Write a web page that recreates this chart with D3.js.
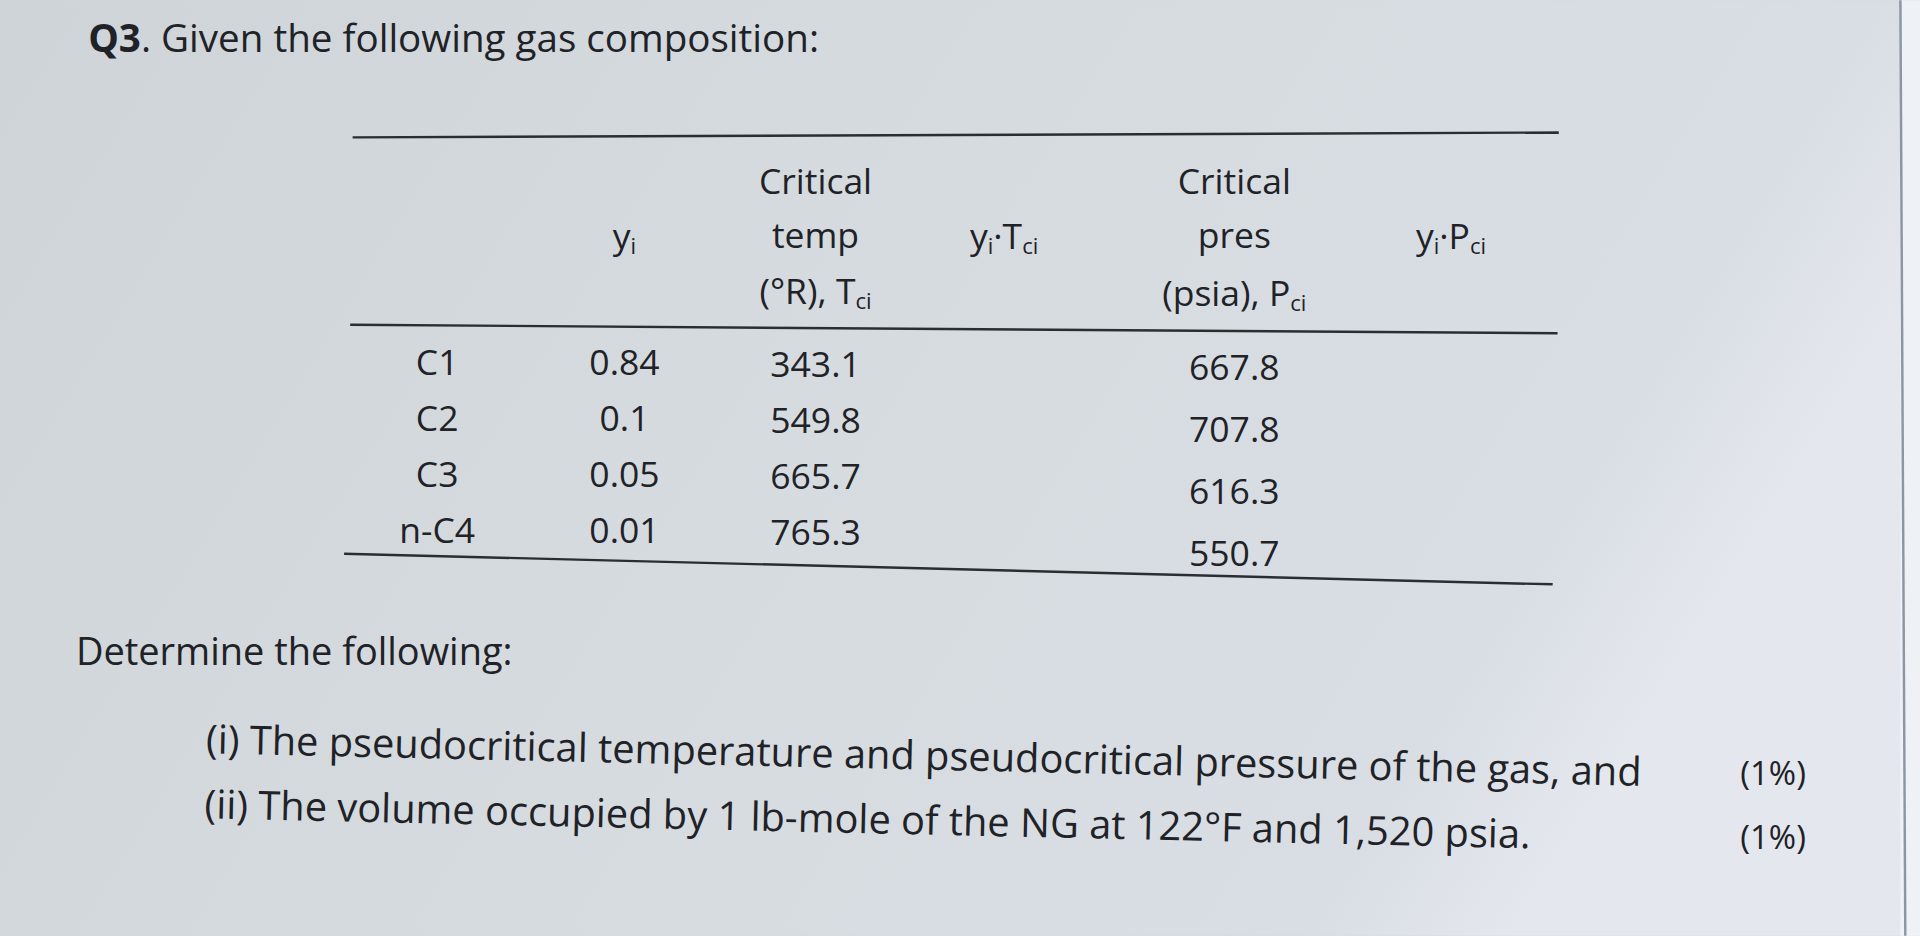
<!DOCTYPE html>
<html><head><meta charset="utf-8">
<script src="https://cdn.jsdelivr.net/npm/d3@7"></script>
<style>html,body{margin:0;padding:0;overflow:hidden;background:#d3d8dd}</style>
</head><body>
<script>
const components = ["C1","C2","C3","n-C4"];
const yi = ["0.84","0.1","0.05","0.01"];
const Tc = ["343.1","549.8","665.7","765.3"];
const Pc = ["667.8","707.8","616.3","550.7"];
const questions = [
  {t:"(i) The pseudocritical temperature and pseudocritical pressure of the gas, and", m:"(1%)"},
  {t:"(ii) The volume occupied by 1 lb-mole of the NG at 122°F and 1,520 psia.", m:"(1%)"}
];

const W=1568,H=764;
const svg=d3.select("body").append("svg").attr("width",1920).attr("height",936)
  .attr("viewBox",`0 0 ${W} ${H}`).style("display","block");
const defs=svg.append("defs");
const g1=defs.append("linearGradient").attr("id","bg").attr("x1",0).attr("x2",1).attr("y1",0).attr("y2",0.3);
[[0,"#cfd4d9"],[0.5,"#d6dbe0"],[0.9,"#d9dee4"],[1,"#e4e8ee"]].forEach(s=>g1.append("stop").attr("offset",s[0]).attr("stop-color",s[1]));
svg.append("rect").attr("width",W).attr("height",H).attr("fill","url(#bg)");
svg.append("rect").attr("x",1552).attr("width",16).attr("height",H).attr("fill","#eef1f6");
svg.append("line").attr("x1",1552).attr("x2",1556).attr("y1",0).attr("y2",H).attr("stroke","#8c96a3").attr("stroke-width",2);

const F="'Open Sans','Noto Sans',sans-serif", C="#1f2226";
const txt=(parent,x,y,s,size,anchor,weight)=>parent.append("text").attr("x",x).attr("y",y).attr("font-family",F)
  .attr("font-size",size).attr("fill",C).attr("text-anchor",anchor||"start").attr("font-weight",weight||500).text(s);

const t=txt(svg,72,42,"",31.5);
t.append("tspan").attr("font-weight",700).text("Q3");
t.append("tspan").text(". Given the following gas composition:");

const rule=(x1,y1,x2,y2)=>svg.append("line").attr("x1",x1).attr("y1",y1).attr("x2",x2).attr("y2",y2).attr("stroke","#2a2d31").attr("stroke-width",2);
rule(288,112,1273,108); rule(286,265,1272,272); rule(281,452,1268,477);

const cx={c:357,y:510,t:666,yt:820,p:1008,yp:1185};
const hs=29;
// text with alternating normal/subscript parts
const rich=(x,y,parts)=>{const e=txt(svg,x,y,"",hs,"middle");
  parts.forEach((p,i)=>{const s=e.append("tspan").text(p);
    if(i%2===1){s.attr("font-size",18).attr("dy",4);} else if(i>0){s.attr("dy",-4);} });return e;};
rich(cx.y,203,["y","i"]);
txt(svg,cx.t,158,"Critical",hs,"middle"); txt(svg,cx.t,202,"temp",hs,"middle"); rich(cx.t,248,["(°R), T","ci"]);
rich(cx.yt,203,["y","i","·T","ci"]);
txt(svg,cx.p,158,"Critical",hs,"middle"); txt(svg,cx.p,202,"pres",hs,"middle"); rich(cx.p,250,["(psia), P","ci"]);
rich(cx.yp,203,["y","i","·P","ci"]);

const rows=d3.scalePoint().domain(components).range([306,443]);
const rowsP=d3.scalePoint().domain(components).range([310,462]);
components.forEach((c,i)=>{
  txt(svg,cx.c,rows(c),c,hs,"middle");
  txt(svg,cx.y,rows(c),yi[i],hs,"middle");
  txt(svg,cx.t,rows(c)+2,Tc[i],hs,"middle");
  txt(svg,cx.p,rowsP(c),Pc[i],hs,"middle");
});

txt(svg,62,543,"Determine the following:",31);
const qg=svg.append("g").attr("transform","rotate(1.3,168,615)");
questions.forEach((q,i)=>{
  txt(qg,168,615+i*53,q.t,32.5);
  txt(svg,1448,641+i*52,q.m,27,"middle");
});
</script>
</body></html>
